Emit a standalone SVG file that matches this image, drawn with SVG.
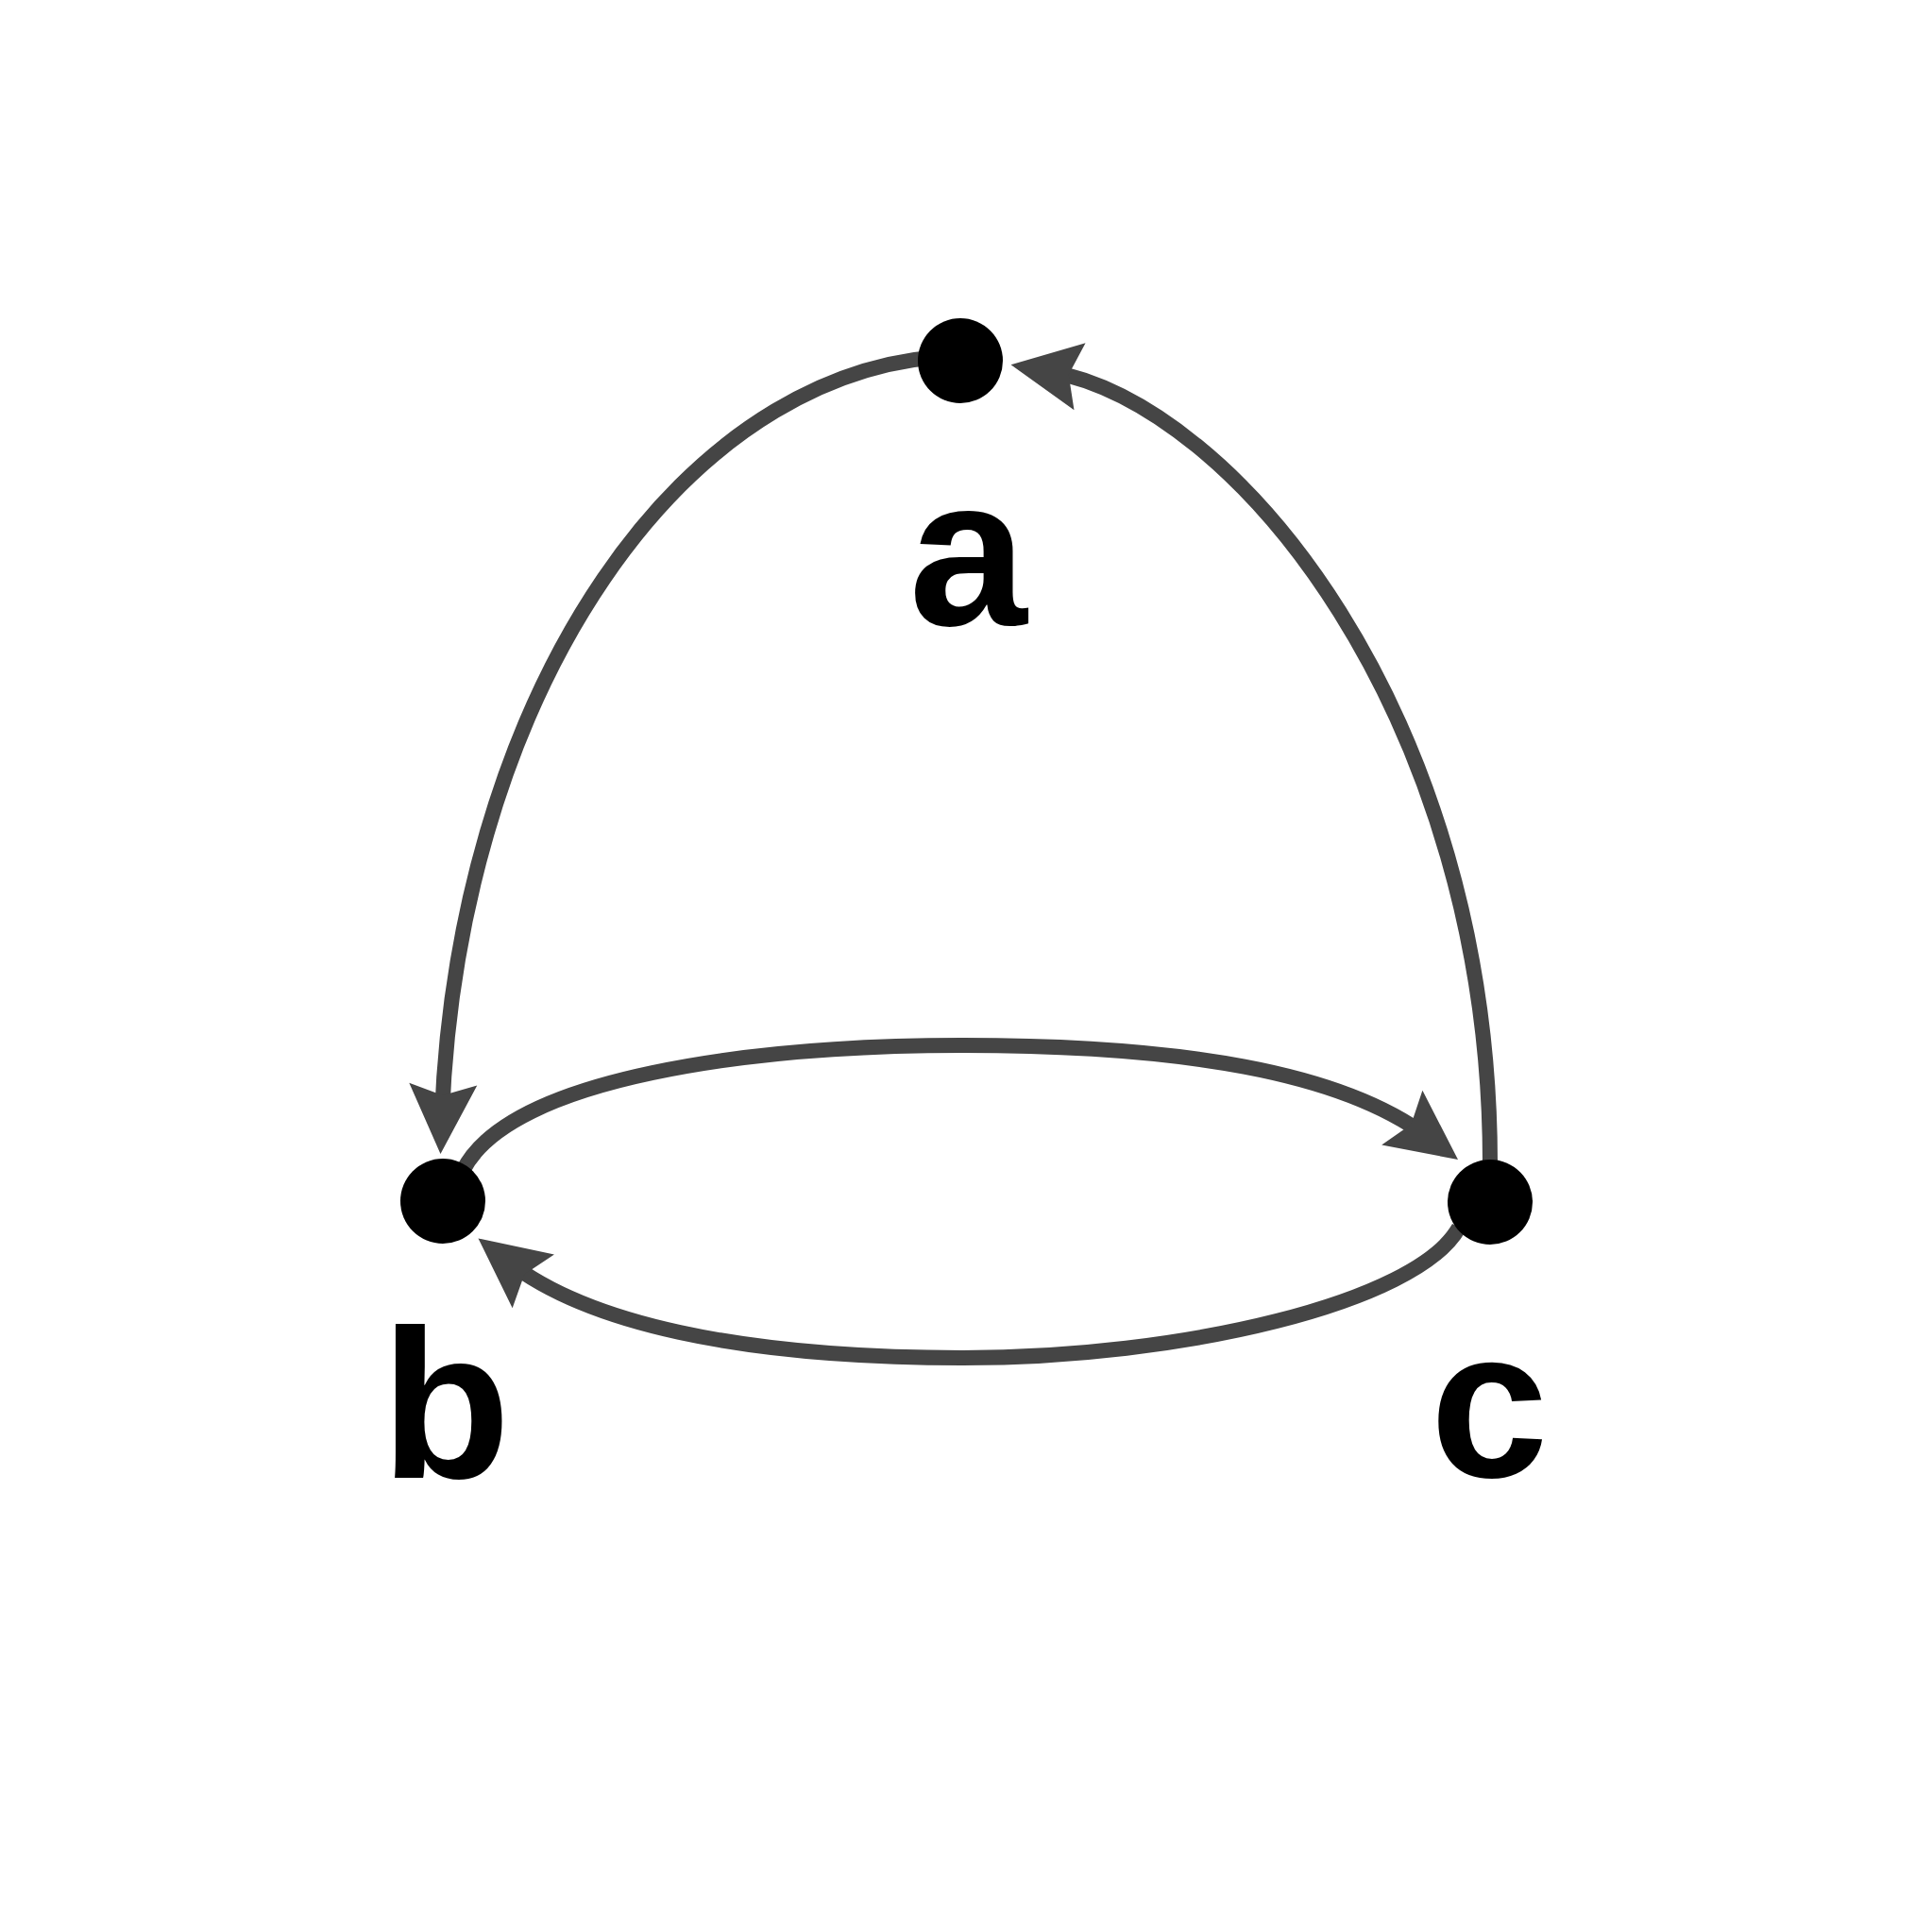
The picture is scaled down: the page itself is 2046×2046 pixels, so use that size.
<svg xmlns="http://www.w3.org/2000/svg" width="2046" height="2046" viewBox="0 0 2046 2046">
  <style>
    .edge { fill: none; stroke: #454545; stroke-width: 16; marker-end: url(#arrow); }
    .node { fill: #000000; }
    .label { font-family: "Liberation Sans", Arial, sans-serif; font-weight: bold; font-size: 225px; fill: #000000; text-anchor: middle; }
  </style>
  <defs>
    <marker id="arrow" markerUnits="userSpaceOnUse" viewBox="-120 -50 140 100" markerWidth="140" markerHeight="100" refX="-40" refY="0" orient="auto">
      <path d="M0,0 L-74,-36 L-62,0 L-74,36 Z" fill="#454545"/>
    </marker>
  </defs>
  <rect width="2046" height="2046" fill="#ffffff"/>
  <g id="edges">
    <path id="edge-a-b" class="edge" d="M1017,377 A555,855 0 0 0 468,1182"/>
    <path id="edge-b-c" class="edge" d="M490,1240 C540,1140 800,1107 1020,1107 C1250,1107 1420,1135 1512,1204"/>
    <path id="edge-c-b" class="edge" d="M1545,1300 C1500,1380 1250,1438 1020,1438 C780,1438 620,1400 538,1336"/>
    <path id="edge-c-a" class="edge" d="M1578,1232 C1578,760 1310,427 1110,393"/>
  </g>
  <g id="node-a">
    <circle class="node" cx="1017" cy="382" r="45"/>
    <text class="label" x="1025" y="662">a</text>
  </g>
  <g id="node-b">
    <circle class="node" cx="469" cy="1272" r="45"/>
    <text class="label" x="472" y="1565">b</text>
  </g>
  <g id="node-c">
    <circle class="node" cx="1578" cy="1273" r="45"/>
    <text class="label" x="1577" y="1564">c</text>
  </g>
</svg>
